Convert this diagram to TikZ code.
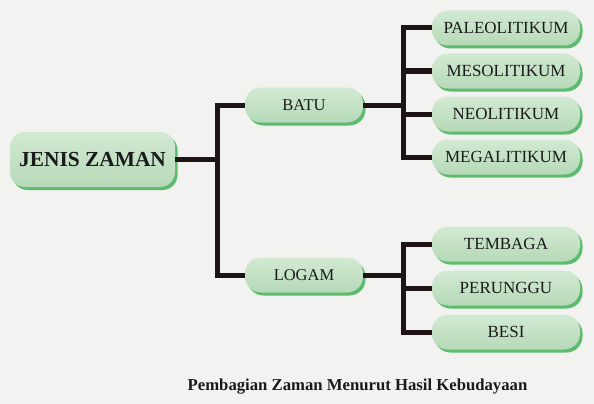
\documentclass[tikz,border=0pt]{standalone}
\usepackage{fontspec}
\setmainfont{Liberation Serif}
\usetikzlibrary{shadows}
\definecolor{bgc}{HTML}{F2F2F0}
\definecolor{boxtop}{HTML}{D2EAD3}
\definecolor{boxbot}{HTML}{B6D9B8}
\definecolor{shgreen}{HTML}{5DBB6E}
\definecolor{linec}{HTML}{1E1414}
\definecolor{txtc}{HTML}{1A1A1A}
\begin{document}
\begin{tikzpicture}[x=1pt,y=-1pt,
  boxbase/.style={rounded corners=15pt, top color=boxtop, bottom color=boxbot,
    draw=none, text=txtc, inner sep=0pt,
    drop shadow={shadow xshift=2.5pt, shadow yshift=-3pt, fill=shgreen, opacity=1}},
  bigbox/.style={boxbase, minimum width=165pt, minimum height=55pt, font=\bfseries\fontsize{21.4}{24}\selectfont},
  midbox/.style={boxbase, minimum width=118pt, minimum height=35pt, rounded corners=16pt, font=\fontsize{16.5}{18}\selectfont},
  leafbox/.style={boxbase, minimum width=148pt, minimum height=35pt, rounded corners=16pt, font=\fontsize{17}{19}\selectfont},
  conn/.style={draw=linec, line width=5pt},
]
\fill[bgc] (0,0) rectangle (594,404);
\useasboundingbox (0,0) rectangle (594,404);

\node[bigbox] (jz) at (92.5,159.5) {JENIS ZAMAN};
\node[midbox] (batu) at (304,105) {BATU};
\node[midbox] (logam) at (304,275) {LOGAM};

\node[leafbox] (paleo) at (506,28) {PALEOLITIKUM};
\node[leafbox] (meso) at (506,71) {MESOLITIKUM};
\node[leafbox] (neo) at (506,114) {NEOLITIKUM};
\node[leafbox] (mega) at (506,157) {MEGALITIKUM};

\node[leafbox] (temb) at (506,244) {TEMBAGA};
\node[leafbox] (peru) at (506,288) {PERUNGGU};
\node[leafbox] (besi) at (506,332) {BESI};

\node[font=\bfseries\fontsize{16.7}{19}\selectfont, text=txtc] (cap) at (357.5,387) {Pembagian Zaman Menurut Hasil Kebudayaan};

% spines
\coordinate (s1) at (217,0);
\coordinate (s2) at (403,0);

\draw[conn] (jz.east) -- (jz.east -| s1);
\draw[conn] (batu.west) -| (s1 |- jz.east);
\draw[conn] (logam.west) -| (s1 |- jz.east);

\draw[conn] (batu.east) -- (batu.east -| s2);
\draw[conn] (paleo.west) -| (s2 |- mega.west) -- (mega.west);
\draw[conn] (meso.west) -- (meso.west -| s2);
\draw[conn] (neo.west) -- (neo.west -| s2);

\draw[conn] (logam.east) -- (logam.east -| s2);
\draw[conn] (temb.west) -| (s2 |- besi.west) -- (besi.west);
\draw[conn] (peru.west) -- (peru.west -| s2);
\end{tikzpicture}
\end{document}
